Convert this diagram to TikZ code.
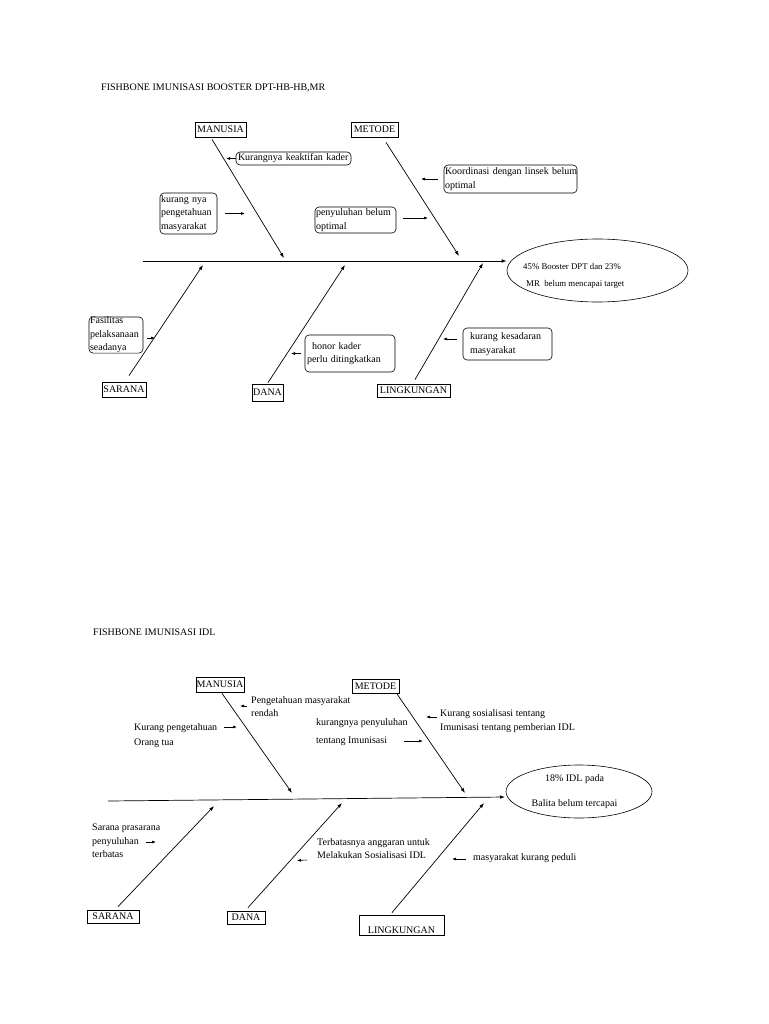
\documentclass[tikz,border=0pt]{standalone}
\usepackage{fontspec}
\setmainfont{Liberation Serif}
\usetikzlibrary{arrows.meta,shapes.geometric}
\newcommand\myfs{\fontsize{10}{13.5}\selectfont}
\newcommand\myeffs{\fontsize{8.8}{12}\selectfont}
\begin{document}
\begin{tikzpicture}[x=1pt,y=-1pt,
  lbl/.style={font=\myfs, inner sep=0pt, align=left, anchor=north west},
  ttl/.style={font=\myfs, inner sep=0pt, anchor=base west},
  cat/.style={draw, line width=0.8pt, inner sep=0pt, font=\myfs},
  cbox/.style={draw, rounded corners=4pt, line width=0.6pt, inner ysep=0pt, align=left, font=\myfs},
  effect/.style={draw, ellipse, line width=0.6pt, inner sep=0pt},
  bone/.style={line width=0.7pt, -{Latex[length=5pt,width=3.5pt]}},
  carrow/.style={line width=0.6pt, -{Latex[length=4pt,width=3pt]}}]
\fill[white] (0,0) rectangle (768,1024);
\useasboundingbox (0,0) rectangle (768,1024);

% ================= TOP FISHBONE =================
\node[ttl] (t1) at (101,91) {FISHBONE IMUNISASI BOOSTER DPT-HB-HB,MR};

\node[cat, minimum width=51pt, minimum height=15pt] (m1) at (220.5,129.5) {MANUSIA};
\node[cat, minimum width=47pt, minimum height=15pt] (me1) at (374.5,129.5) {METODE};
\node[cat, minimum width=44pt, minimum height=15pt] (s1) at (124,389.5) {SARANA};
\node[cat, minimum width=31pt, minimum height=17pt] (d1) at (267.5,392.5) {DANA};
\node[cat, minimum width=73pt, minimum height=13pt] (l1) at (413.5,390.5) {LINGKUNGAN};

\node[effect, minimum width=181pt, minimum height=63pt] (e1) at (597.5,270.5) {};
\node[font=\myeffs, inner sep=0pt, align=left, anchor=north west] (e1t) at (523,263.5)
  {45\% Booster DPT dan 23\%\\[5pt]\hspace*{3pt}MR\ \ belum mencapai target};

\coordinate (sp1) at (143,261);
\draw[bone] (sp1) -- (sp1 -| e1.west);

\coordinate (tm1) at (284,258);
\coordinate (tme1) at (459,256);
\coordinate (ts1) at (203,265);
\coordinate (td1) at (345,265);
\coordinate (tl1) at (483,263);
\draw[bone] ([xshift=-8.5pt,yshift=-2pt]m1.south) -- (tm1);
\draw[bone] ([xshift=11.5pt,yshift=-5pt]me1.south) -- (tme1);
\draw[bone] ([xshift=5pt,yshift=6pt]s1.north) -- (ts1);
\draw[bone] ([xshift=0.5pt,yshift=1pt]d1.north) -- (td1);
\draw[bone] ([xshift=1.5pt,yshift=4pt]l1.north) -- (tl1);

\node[cbox, inner xsep=2pt, text width=111pt, minimum height=13pt] (ca) at (293.5,158.5) {Kurangnya keaktifan kader};
\node[cbox, inner xsep=1pt, text width=55pt, minimum height=41pt] (cb) at (188.5,213.5) {kurang nya\\pengetahuan\\masyarakat};
\node[cbox, inner xsep=1pt, text width=79pt, minimum height=26pt] (cc) at (355.5,220) {penyuluhan belum\\optimal};
\node[cbox, inner xsep=1pt, text width=131pt, minimum height=28pt] (cd) at (510.5,179) {\mbox{Koordinasi dengan linsek belum}\\optimal};
\node[cbox, inner xsep=1pt, text width=52pt, minimum height=36pt] (ce) at (116,335) {Fasilitas\\pelaksanaan\\seadanya};
\node[cbox, inner xsep=2pt, text width=86pt, minimum height=37pt] (cf) at (350,353.5) {\hspace*{5pt}honor kader\\perlu ditingkatkan};
\node[cbox, inner xsep=7pt, text width=75pt, minimum height=32pt] (cg) at (507.5,344) {kurang kesadaran\\masyarakat};

\coordinate (ta) at (226,158.5);
\coordinate (tb) at (245,213.5);
\coordinate (tc) at (428,218);
\coordinate (td) at (421,179);
\coordinate (te) at (155,338);
\coordinate (tf) at (291,353.5);
\coordinate (tg) at (443,339);
\draw[carrow] (ca.west) -- (ta);
\draw[carrow] ([xshift=8pt]cb.east) -- (tb);
\draw[carrow] ([xshift=7pt,yshift=2pt]cc.east) -- (tc);
\draw[carrow] ([xshift=-6pt]cd.west) -- (td);
\draw[carrow] ([xshift=4pt,yshift=-3pt]ce.east) -- (te);
\draw[carrow] ([xshift=-4pt]cf.west) -- (tf);
\draw[carrow] ([xshift=-6pt,yshift=5pt]cg.west) -- (tg);

% ================= BOTTOM FISHBONE =================
\node[ttl] (t2) at (93,635.5) {FISHBONE IMUNISASI IDL};

\node[cat, minimum width=48pt, minimum height=15pt] (m2) at (220,684.5) {MANUSIA};
\node[cat, minimum width=47pt, minimum height=14pt] (me2) at (375.5,686.5) {METODE};
\node[cat, minimum width=52pt, minimum height=13pt] (s2) at (113,916.5) {SARANA};
\node[cat, minimum width=38pt, minimum height=13pt] (d2) at (246,917.5) {DANA};
\node[cat, minimum width=85pt, text height=17.6pt, text depth=2.4pt, anchor=base] (l2) at (401.5,933.3) {LINGKUNGAN};

\node[effect, minimum width=146pt, minimum height=53pt] (e2) at (579,791.5) {};
\node[font=\myfs, inner sep=0pt, align=center, anchor=north] (e2t) at (574.5,774.5)
  {18\% IDL pada\\[11.5pt]Balita belum tercapai};

\coordinate (sp2) at (108,801);
\coordinate (sp2e) at (505,797);
\draw[bone] (sp2) -- (sp2e);

\coordinate (tm2) at (292,793);
\coordinate (tme2) at (465,793);
\coordinate (ts2) at (214,806);
\coordinate (td2) at (342,803);
\coordinate (tl2) at (484,803);
\draw[bone] ([xshift=2pt,yshift=-1pt]m2.south) -- (tm2);
\draw[bone] ([xshift=21.5pt]me2.south) -- (tme2);
\draw[bone] ([xshift=5pt,yshift=3pt]s2.north) -- (ts2);
\draw[bone] ([xshift=2pt,yshift=3pt]d2.north) -- (td2);
\draw[bone] ([xshift=-9.5pt,yshift=2.7pt]l2.north) -- (tl2);

\node[lbl] (p2) at (251,696) {Pengetahuan masyarakat\\rendah};
\node[lbl] (k2) at (134,723) {Kurang pengetahuan\\[2pt]Orang tua};
\node[lbl] (kp2) at (316,718) {kurangnya penyuluhan\\[4.5pt]tentang Imunisasi};
\node[lbl] (ks2) at (440,709.5) {Kurang sosialisasi tentang\\Imunisasi tentang pemberian IDL};
\node[lbl] (sa2) at (92,824) {Sarana prasarana\\penyuluhan\\terbatas};
\node[lbl] (tb2) at (317,838) {Terbatasnya anggaran untuk\\Melakukan Sosialisasi IDL};
\node[lbl] (mk2) at (473,853.5) {masyarakat kurang peduli};

\coordinate (tp2) at (240,706);
\coordinate (tk2) at (237,727);
\coordinate (tkp2) at (423,741);
\coordinate (tks2) at (426,717);
\coordinate (tsa2) at (156,842);
\coordinate (ttb2) at (297,860.5);
\coordinate (tmk2) at (452,859);
\draw[carrow] ([xshift=-4pt,yshift=-10pt]p2.north west) -- (tp2);
\draw[carrow] ([xshift=7pt,yshift=-4pt]k2.north east) -- (tk2);
\draw[carrow] ([xshift=-4pt,yshift=-23pt]kp2.north east) -- (tkp2);
\draw[carrow] ([xshift=-3pt,yshift=-7.5pt]ks2.north west) -- (tks2);
\draw[carrow] ([xshift=54pt,yshift=-18pt]sa2.north west) -- (tsa2);
\draw[carrow] ([xshift=-10pt,yshift=-22pt]tb2.north west) -- (ttb2);
\draw[carrow] ([xshift=-7pt,yshift=-5.5pt]mk2.north west) -- (tmk2);
\end{tikzpicture}
\end{document}
